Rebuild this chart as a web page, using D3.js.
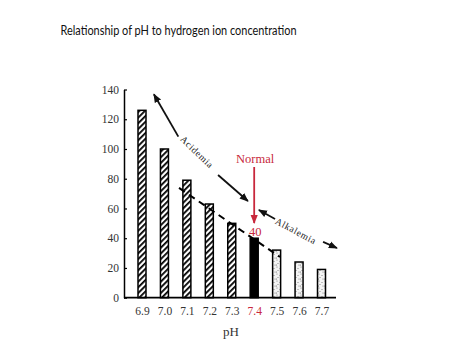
<!DOCTYPE html>
<html><head><meta charset="utf-8">
<script src="https://cdn.jsdelivr.net/npm/d3@7"></script>
<style>html,body{margin:0;padding:0;background:#fff;}svg{display:block;}</style>
</head><body>
<script>
// ---- data ----
const categories = ["6.9","7.0","7.1","7.2","7.3","7.4","7.5","7.6","7.7"];
const hConc = [126, 100, 79, 63, 50, 40, 32, 24, 19];
const fills = ["hatch","hatch","hatch","hatch","hatch","solid","dots","dots","dots"];
const yTicks = [0,20,40,60,80,100,120,140];
const title = "Relationship of pH to hydrogen ion concentration";
// annotation anchor points in data space [pH, nmol/L]
const acidArrow1 = [[7.062,108.3],[6.953,136.8]];
const acidArrow2 = [[7.239,82.5],[7.372,65.0]];
const acidLabel = {text:"Acidemia", at:[7.145,98.0], angle:44};
const alkArrow1 = [[7.493,52.9],[7.421,59.0]];
const alkArrow2 = [[7.707,37.5],[7.769,33.4]];
const alkLabel = {text:"Alkalemia", at:[7.586,44.9], angle:28};
const trend = [[7.065,73.8],[7.515,27.4]];
const normal = {text:"Normal", value:"40", pH:7.4, textAt:90.6, from:87.9, to:50.2, valueAt:41.5};

const W=474,H=355;
const svg=d3.select("body").append("svg").attr("width",W).attr("height",H);
svg.append("rect").attr("width",W).attr("height",H).attr("fill","#fff");
const defs=svg.append("defs");
const hp=defs.append("pattern").attr("id","hatch").attr("patternUnits","userSpaceOnUse")
  .attr("width",4).attr("height",4).attr("patternTransform","rotate(45)");
hp.append("rect").attr("width",4).attr("height",4).attr("fill","#fff");
hp.append("rect").attr("x",0).attr("y",0).attr("width",1.8).attr("height",4).attr("fill","#000");
const dp=defs.append("pattern").attr("id","dots").attr("patternUnits","userSpaceOnUse").attr("width",6).attr("height",7);
dp.append("rect").attr("width",6).attr("height",7).attr("fill","#f4f4f4");
[[1,1],[4,2.5],[2,4.5],[5,6],[0.5,6]].forEach(p=>dp.append("circle").attr("cx",p[0]).attr("cy",p[1]).attr("r",0.55).attr("fill","#777"));
function marker(id,color){
  defs.append("marker").attr("id",id).attr("viewBox","0 0 10 10").attr("refX",9).attr("refY",5)
   .attr("markerWidth",9).attr("markerHeight",9).attr("markerUnits","userSpaceOnUse").attr("orient","auto")
   .append("path").attr("d","M0,1 L10,5 L0,9 Z").attr("fill",color);
}
marker("ah","#111"); marker("ahr","#c8283c");
const RED="#c8283c";

const x=d3.scalePoint().domain(categories).range([142,321.5]);
const xLin=d3.scaleLinear().domain([6.9,7.7]).range([142,321.5]);
const y=d3.scaleLinear().domain([0,140]).range([297.7,89.5]);
const bw=8;

// title
svg.append("text").attr("x",60.5).attr("y",34.5).attr("font-family","Lato, 'Open Sans', sans-serif")
  .attr("font-size",12.5).attr("fill","#111").attr("textLength",236).attr("lengthAdjust","spacingAndGlyphs").text(title);

// bars
svg.selectAll("rect.bar").data(categories).join("rect").attr("class","bar")
  .attr("x",d=>x(d)-bw/2).attr("width",bw)
  .attr("y",(d,i)=>y(hConc[i])).attr("height",(d,i)=>y(0)-y(hConc[i]))
  .attr("fill",(d,i)=>fills[i]==="solid"?"#000":`url(#${fills[i]})`)
  .attr("stroke","#000").attr("stroke-width",1.5);

// y axis
const ya=svg.append("g").attr("transform",`translate(124,0)`)
  .call(d3.axisLeft(y).tickValues(yTicks).tickSizeInner(-3).tickSizeOuter(0).tickPadding(5));
ya.select(".domain").attr("stroke","#000").attr("stroke-width",1.5);
ya.selectAll(".tick line").attr("stroke","#000").attr("stroke-width",1.2);
ya.selectAll("text").attr("font-family","'Liberation Serif', serif").attr("font-size",11.5).attr("fill","#333");

// x axis
svg.append("line").attr("x1",124).attr("x2",336).attr("y1",y(0)).attr("y2",y(0)).attr("stroke","#000").attr("stroke-width",1.8);
const xa=svg.append("g").attr("transform",`translate(0,${y(0)})`)
  .call(d3.axisBottom(x).tickSize(0).tickPadding(9));
xa.select(".domain").remove();
xa.selectAll("text").attr("font-family","'Liberation Serif', serif").attr("font-size",11.5)
  .attr("fill",d=>d==="7.4"?RED:"#333");
svg.append("text").attr("x",231).attr("y",336).attr("text-anchor","middle")
  .attr("font-family","'Liberation Serif', serif").attr("font-size",13).attr("fill","#333").text("pH");

// trend dashed line
svg.append("line").attr("x1",xLin(trend[0][0])).attr("y1",y(trend[0][1])).attr("x2",xLin(trend[1][0])).attr("y2",y(trend[1][1]))
  .attr("stroke","#000").attr("stroke-width",2).attr("stroke-dasharray","7,5");

// arrows
function arrow(pts,m,color){
  svg.append("line").attr("x1",xLin(pts[0][0])).attr("y1",y(pts[0][1])).attr("x2",xLin(pts[1][0])).attr("y2",y(pts[1][1]))
   .attr("stroke",color||"#111").attr("stroke-width",1.8).attr("marker-end",`url(#${m})`);
}
arrow(acidArrow1,"ah"); arrow(acidArrow2,"ah"); arrow(alkArrow1,"ah"); arrow(alkArrow2,"ah");
function rlabel(l){
  svg.append("text").attr("transform",`translate(${xLin(l.at[0])},${y(l.at[1])}) rotate(${l.angle})`)
   .attr("text-anchor","middle").attr("dy","0.35em").attr("font-family","'Liberation Serif', serif")
   .attr("font-size",9.5).attr("letter-spacing",0.6).attr("fill","#222").text(l.text);
}
rlabel(acidLabel); rlabel(alkLabel);

// normal
svg.append("text").attr("x",xLin(normal.pH)+1).attr("y",y(normal.textAt)).attr("text-anchor","middle")
  .attr("font-family","'Liberation Serif', serif").attr("font-size",12.5).attr("fill",RED).text(normal.text);
svg.append("line").attr("x1",xLin(normal.pH)).attr("x2",xLin(normal.pH)).attr("y1",y(normal.from)).attr("y2",y(normal.to))
  .attr("stroke",RED).attr("stroke-width",1.8).attr("marker-end","url(#ahr)");
svg.append("text").attr("x",xLin(normal.pH)+1).attr("y",y(normal.valueAt)).attr("text-anchor","middle")
  .attr("font-family","'Liberation Serif', serif").attr("font-size",12.5).attr("fill",RED).text(normal.value);
</script>
</body></html>
